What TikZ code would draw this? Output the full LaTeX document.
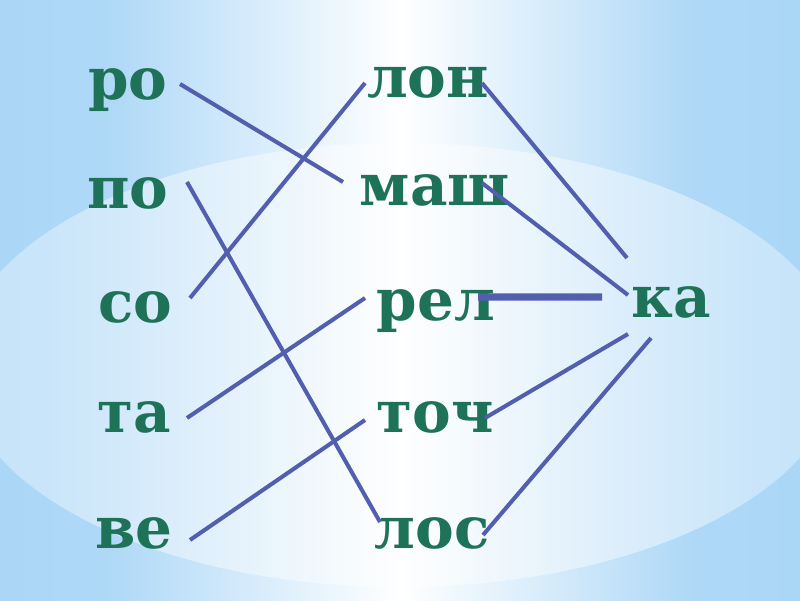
\documentclass[tikz,border=0pt]{standalone}
\usepackage{fontspec}
\setmainfont{DejaVu Serif}
\definecolor{sylgreen}{RGB}{30,114,88}
\definecolor{linkblue}{RGB}{82,94,174}
\definecolor{skyblue}{RGB}{155,207,245}
\pgfdeclarehorizontalshading{skyband}{100bp}{color(0bp)=(skyblue); color(32bp)=(skyblue!80); color(50bp)=(white); color(68bp)=(skyblue!80); color(100bp)=(skyblue)}
\pgfdeclarehorizontalshading{skyoval}{100bp}{color(0bp)=(skyblue!80); color(30bp)=(skyblue!45); color(50bp)=(white); color(70bp)=(skyblue!45); color(100bp)=(skyblue!80)}
\begin{document}
\begin{tikzpicture}[
  syl/.style={anchor=base, inner sep=0pt, text=sylgreen,
    font=\fontsize{33}{34}\selectfont\bfseries},
  link/.style={draw=linkblue, line width=2.3pt},
  fatlink/.style={draw=linkblue, line width=4pt}]
\useasboundingbox (0,0) rectangle (16,12);
% background
\shade[shading=skyband] (0,0) rectangle (16,12);
\begin{scope}
\clip (0,0) rectangle (16,12);
\shade[shading=skyoval, opacity=.8] (8,4.7) ellipse (8.8 and 4.44);
\end{scope}
% left column
\node[syl] (ro) at (2.56,10.0) {ро};
\node[syl] (po) at (2.56,7.84) {по};
\node[syl] (so) at (2.70,5.56) {со};
\node[syl] (ta) at (2.68,3.36) {та};
\node[syl] (ve) at (2.68,1.04) {ве};
% middle column
\node[syl] (lon) at (8.56,10.04) {лон};
\node[syl] (mash) at (8.70,7.90) {маш};
\node[syl] (rel) at (8.72,5.60) {рел};
\node[syl] (toch) at (8.70,3.36) {точ};
\node[syl] (los) at (8.64,1.04) {лос};
% right
\node[syl] (ka) at (13.42,5.66) {ка};
% links
\draw[link] ([shift={(1.04,0.32)}]ro.base) -- ([shift={(-1.84,0.46)}]mash.base);
\draw[link] ([shift={(1.18,0.52)}]po.base) -- ([shift={(-1.04,0.52)}]los.base);
\draw[link] ([shift={(1.10,0.48)}]so.base) -- ([shift={(-1.26,0.30)}]lon.base);
\draw[link] ([shift={(1.06,0.28)}]ta.base) -- ([shift={(-1.42,0.44)}]rel.base);
\draw[link] ([shift={(1.12,0.16)}]ve.base) -- ([shift={(-1.40,0.24)}]toch.base);
\draw[link] ([shift={(1.08,0.30)}]lon.base) -- ([shift={(-0.88,1.18)}]ka.base);
\draw[link] ([shift={(0.94,0.44)}]mash.base) -- ([shift={(-0.86,0.44)}]ka.base);
\draw[fatlink] ([shift={(0.84,0.46)}]rel.base) -- ([shift={(-1.38,0.40)}]ka.base);
\draw[link] ([shift={(1.00,0.28)}]toch.base) -- ([shift={(-0.86,-0.34)}]ka.base);
\draw[link] ([shift={(1.02,0.26)}]los.base) -- ([shift={(-0.40,-0.42)}]ka.base);
\end{tikzpicture}
\end{document}
